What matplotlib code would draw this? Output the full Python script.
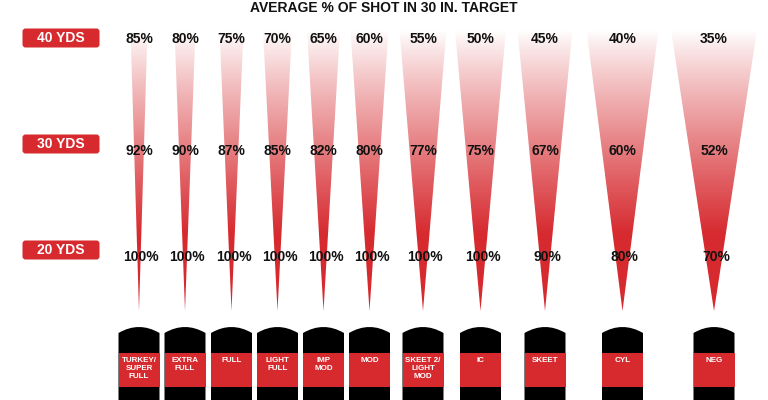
import matplotlib
matplotlib.use("Agg")
import matplotlib.pyplot as plt
import numpy as np
from matplotlib.path import Path
from matplotlib.patches import PathPatch, Rectangle, FancyBboxPatch, Polygon

# ---- data ----
chokes = ["TURKEY/\nSUPER\nFULL", "EXTRA\nFULL", "FULL", "LIGHT\nFULL", "IMP\nMOD", "MOD",
          "SKEET 2/\nLIGHT\nMOD", "IC", "SKEET", "CYL", "NEG"]
pct_40 = [85, 80, 75, 70, 65, 60, 55, 50, 45, 40, 35]
pct_30 = [92, 90, 87, 85, 82, 80, 77, 75, 67, 60, 52]
pct_20 = [100, 100, 100, 100, 100, 100, 100, 100, 90, 80, 70]
distances = ["40 YDS", "30 YDS", "20 YDS"]
title = "AVERAGE % OF SHOT IN 30 IN. TARGET"

# ---- layout / style ----
xpos = [139, 185, 231.5, 277.5, 323.5, 369.5, 423, 480.5, 545, 622.5, 714]
cone_w = [17, 21, 24, 29, 33, 38, 47, 51, 55, 72, 86]
row_y = [39, 151, 257]
box_y = [38, 144, 250]
cone_top, cone_tip = 30, 311
RED = "#d62a2f"
FONT = "Liberation Sans"

fig = plt.figure(figsize=(7.68, 4.0), dpi=100)
ax = fig.add_axes([0, 0, 1, 1])
ax.set_xlim(0, 768)
ax.set_ylim(400, 0)
ax.axis("off")

# gradient image (white at top -> red lower down)
n = 256
ys = np.linspace(cone_top, cone_tip, n)
t = np.clip((ys - cone_top) / (235 - cone_top), 0, 1) ** 0.9
red_rgb = np.array(matplotlib.colors.to_rgb(RED))
cols = (1 - t)[:, None] * np.ones(3) + t[:, None] * red_rgb
grad = cols[:, None, :]

for x, w in zip(xpos, cone_w):
    poly = Polygon([(x - w / 2, cone_top), (x + w / 2, cone_top), (x, cone_tip)],
                   closed=True, facecolor="none", edgecolor="none")
    ax.add_patch(poly)
    im = ax.imshow(grad, extent=(x - w / 2, x + w / 2, cone_tip, cone_top),
                   aspect="auto", interpolation="bilinear", zorder=1)
    im.set_clip_path(poly)

# percentage labels
for vals, y, dx in zip([pct_40, pct_30, pct_20], row_y, [0, 0, 2]):
    for x, v in zip(xpos, vals):
        ax.text(x + dx, y, f"{v}%", ha="center", va="center", fontsize=10,
                fontweight="bold", family=FONT, color="#111111", zorder=3)

# distance boxes
for lab, y in zip(distances, box_y):
    ax.add_patch(FancyBboxPatch((24, y - 8), 74, 16,
                                boxstyle="round,pad=1.5,rounding_size=3",
                                facecolor=RED, edgecolor="none", zorder=2))
    ax.text(61, y, lab, ha="center", va="center", fontsize=10, fontweight="bold",
            family=FONT, color="white", zorder=3)

# title
ax.text(384, 8, title, ha="center", va="center", fontsize=10, fontweight="bold",
        family=FONT, color="#111111")

# shells
sw = 41
for x, lab in zip(xpos, chokes):
    l, r = x - sw / 2, x + sw / 2
    verts = [(l, 402), (l, 333), (x, 321), (r, 333), (r, 402), (l, 402)]
    codes = [Path.MOVETO, Path.LINETO, Path.CURVE3, Path.CURVE3, Path.LINETO, Path.CLOSEPOLY]
    ax.add_patch(PathPatch(Path(verts, codes), facecolor="black", edgecolor="none", zorder=2))
    ax.add_patch(Rectangle((l, 353), sw, 34, facecolor=RED, edgecolor="none", zorder=3))
    ax.text(x, 357, lab, ha="center", va="top", fontsize=5.8, fontweight="bold",
            family=FONT, color="white", linespacing=1.25, zorder=4)

fig.savefig("out.png", dpi=100)
